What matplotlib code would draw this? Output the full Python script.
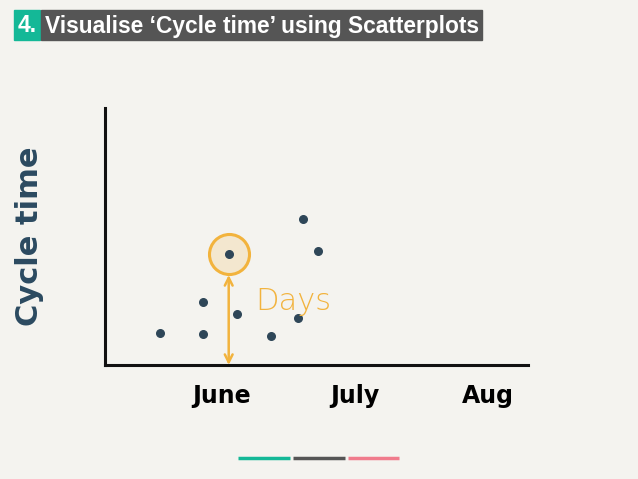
import matplotlib
matplotlib.use("Agg")
import matplotlib.pyplot as plt
from matplotlib.patches import Rectangle
from matplotlib.lines import Line2D

# ---- data ----
months = ["June", "July", "Aug"]
month_pos = [1, 2, 3]
x_vals = [0.53, 0.86, 0.86, 1.05, 1.11, 1.37, 1.57, 1.61, 1.72]   # time (months)
y_vals = [3.2, 6.3, 3.1, 11.1, 5.1, 2.9, 4.7, 14.6, 11.4]          # cycle time (days)
highlight_idx = 3
title_num = "4."
title_text = "Visualise \u2018Cycle time\u2019 using Scatterplots"
y_label = "Cycle time"
note_text = "Days"

BG = "#f4f3ef"
ORANGE = "#f2b33d"
DOT = "#2e4658"
TEAL = "#14b897"
GRAY = "#555555"
PINK = "#f07b8c"

W, H = 638, 479
fig = plt.figure(figsize=(W / 100, H / 100), dpi=100, facecolor=BG)

def fx(px):
    return px / W

def fy(py):
    return 1 - py / H

# title boxes
fig.patches.append(Rectangle((fx(14), fy(40)), fx(40) - fx(14), fy(10) - fy(40),
                             transform=fig.transFigure, color=TEAL, zorder=1))
fig.patches.append(Rectangle((fx(41), fy(40)), fx(482) - fx(41), fy(10) - fy(40),
                             transform=fig.transFigure, color=GRAY, zorder=1))
fig.text(fx(27), fy(26), title_num, color="white", fontsize=16.4, fontweight="bold",
         family="Liberation Sans", ha="center", va="center")
fig.text(fx(45), fy(26), title_text, color="white", fontsize=16.4, fontweight="bold",
         family="Liberation Sans", ha="left", va="center")

# underline bars
for (x0, x1), c in zip([(238, 290), (293, 345), (348, 399)], [TEAL, GRAY, PINK]):
    fig.lines.append(Line2D([fx(x0), fx(x1)], [fy(458), fy(458)], transform=fig.transFigure,
                            color=c, lw=2.5, solid_capstyle="butt"))

# axes
left, right, top, bottom = 105, 528, 108, 365
ax = fig.add_axes([fx(left), fy(bottom), fx(right) - fx(left), fy(top) - fy(bottom)])
ax.set_facecolor("none")
ax.set_xlim(0.12, 3.30)
ax.set_ylim(0, 25.7)
for s in ["top", "right"]:
    ax.spines[s].set_visible(False)
for s in ["left", "bottom"]:
    ax.spines[s].set_linewidth(2.2)
    ax.spines[s].set_color("#111111")
ax.set_yticks([])
ax.set_xticks(month_pos)
ax.set_xticklabels(months, fontsize=17, fontweight="bold", family="DejaVu Sans", color="black")
ax.tick_params(axis="x", length=0, pad=14)
ax.set_ylabel(y_label, fontsize=22, fontweight="bold", color="#2b4a60", labelpad=44,
              family="DejaVu Sans")

# highlight circle
hx, hy = x_vals[highlight_idx], y_vals[highlight_idx]
ax.scatter([hx], [hy], s=830, facecolor="#f3e7cf", edgecolor=ORANGE, linewidth=2.2, zorder=2)
ax.scatter(x_vals, y_vals, s=30, color=DOT, zorder=3)

# arrow
ax.annotate("", xy=(hx, 0), xytext=(hx, hy - 2.1),
            arrowprops=dict(arrowstyle="<->", color=ORANGE, lw=1.8, shrinkA=0, shrinkB=0,
                            mutation_scale=14), zorder=4)
ax.text(hx + 0.2, 6.3, note_text, color=ORANGE, fontsize=22, family="DejaVu Sans",
        fontweight="light", ha="left", va="center")

fig.savefig("out.png", dpi=100, facecolor=BG)
